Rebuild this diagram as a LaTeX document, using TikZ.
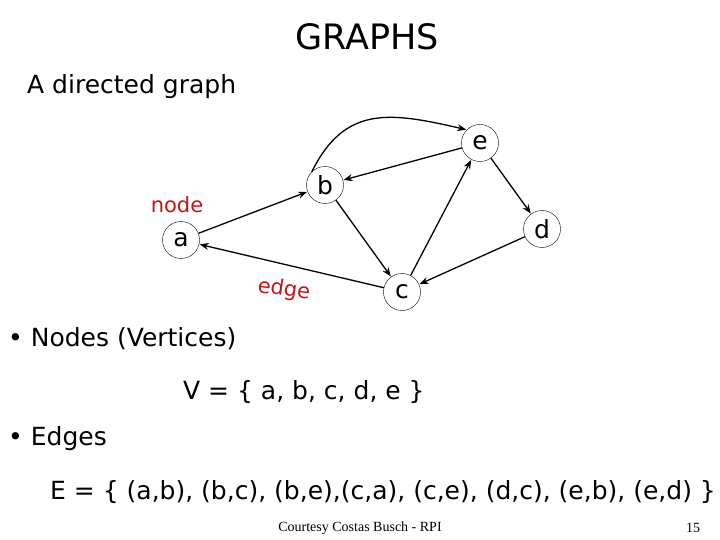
\documentclass[tikz,border=0pt]{standalone}
\usepackage{fontspec}
\setmainfont{DejaVu Sans}
\newfontfamily\serifF{Liberation Serif}
\usetikzlibrary{arrows.meta}
\begin{document}
\begin{tikzpicture}[x=1pt,y=-1pt,
  vert/.style={circle,draw,minimum size=37pt,inner sep=0pt,font=\fontsize{25}{26}\selectfont},
  edg/.style={-{Stealth[length=9pt,width=7pt]},line width=1.3pt,shorten >=0.5pt},
  lbl/.style={anchor=west,inner sep=0pt,font=\fontsize{25}{28}\selectfont},
  red/.style={text={rgb,255:red,200;green,20;blue,20},font=\fontsize{21}{24}\selectfont}]
\useasboundingbox (0,0) rectangle (720,540);
\node[font=\fontsize{35}{38}\selectfont] (title) at (367,37) {GRAPHS};
\node[lbl] (dg) at (27,87) {A directed graph};
\node[vert] (a) at (181,240) {a};
\node[vert] (b) at (325,185) {b};
\node[vert] (e) at (480,143) {e};
\node[vert] (d) at (542,229) {d};
\node[vert] (c) at (402,292) {c};
\node[red] (nl) at (177,205) {node};
\node[red,rotate=-8] (el) at (284,290) {edge};
\draw[edg] (a) -- (b);
\draw[edg] (b) -- (c);
\draw[edg] (e) -- (b);
\draw[edg] (c) -- (a);
\draw[edg] (c) -- (e);
\draw[edg] (d) -- (c);
\draw[edg] (e) -- (d);
\draw[edg] (b.north west) .. controls (345,105) and (390,112) .. (e.north west);
\node[lbl] (n1) at (8,339) {• Nodes (Vertices)};
\node[lbl] (v) at (183,392) {V = \{ a, b, c, d, e \}};
\node[lbl] (n2) at (8,439) {• Edges};
\node[lbl] (ee) at (50,492) {E = \{ (a,b), (b,c), (b,e),(c,a), (c,e), (d,c), (e,b), (e,d) \}};
\node[font=\serifF\fontsize{14}{16}\selectfont] (ct) at (360,528) {Courtesy Costas Busch - RPI};
\node[font=\serifF\fontsize{14}{16}\selectfont] (pg) at (693,528) {15};
\end{tikzpicture}
\end{document}
